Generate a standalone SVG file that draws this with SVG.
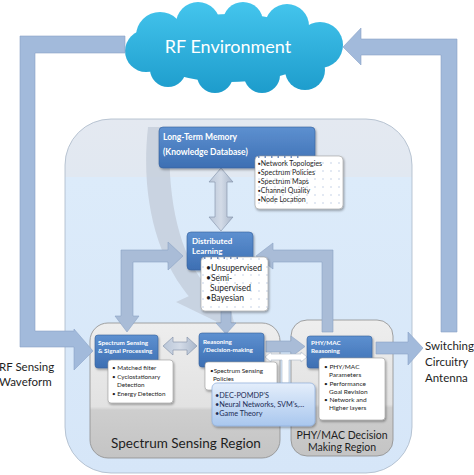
<svg xmlns="http://www.w3.org/2000/svg" width="474" height="475" viewBox="0 0 474 475">
<defs>
<linearGradient id="cloudG" gradientUnits="userSpaceOnUse" x1="0" y1="0" x2="0" y2="95"><stop offset="0" stop-color="#45c6ee"/><stop offset="1" stop-color="#1c9bcb"/></linearGradient>
<linearGradient id="contG" x1="0" y1="0" x2="0" y2="1"><stop offset="0" stop-color="#e4e9f1"/><stop offset="0.163" stop-color="#e1e8f1"/><stop offset="0.165" stop-color="#dcebfa"/><stop offset="1" stop-color="#d6e6f8"/></linearGradient>
<linearGradient id="regG" x1="0" y1="0" x2="0" y2="1"><stop offset="0" stop-color="#eeeeee"/><stop offset="0.62" stop-color="#e2e2e2"/><stop offset="0.645" stop-color="#cecece"/><stop offset="1" stop-color="#c4c4c4"/></linearGradient>
<linearGradient id="boxG" x1="0" y1="0" x2="0" y2="1"><stop offset="0" stop-color="#5d90d0"/><stop offset="1" stop-color="#3d6fb3"/></linearGradient>
<linearGradient id="decG" x1="0" y1="0" x2="0" y2="1"><stop offset="0" stop-color="#e4eefb"/><stop offset="1" stop-color="#a9c7ee"/></linearGradient>
<linearGradient id="arrG" x1="0" y1="0" x2="1" y2="0"><stop offset="0" stop-color="#b9c6d8"/><stop offset="0.5" stop-color="#d3dbe7"/><stop offset="1" stop-color="#a9b7cb"/></linearGradient>
<pattern id="dots" width="8" height="8" patternUnits="userSpaceOnUse"><rect width="8" height="8" fill="#ffffff"/><circle cx="3" cy="3" r="0.7" fill="#b3c3de"/></pattern>
<filter id="sh" x="-10%" y="-10%" width="130%" height="130%"><feDropShadow dx="1" dy="1.5" stdDeviation="1" flood-color="#000" flood-opacity="0.35"/></filter>
<style>
.bar{fill:#a2badb;stroke:#8aa3c8;stroke-width:0.6}
.arr{fill:#a9bcd7;stroke:#8ca2c4;stroke-width:0.6}
.box{fill:url(#boxG);stroke:#35619c;stroke-width:0.6;filter:url(#sh)}
.wbox{fill:#ffffff;stroke:#9a9a9a;stroke-width:0.6;filter:url(#sh)}
.dbox{fill:url(#dots);stroke:#9a9a9a;stroke-width:0.6;filter:url(#sh)}
.dtop{stroke:#4a70b0;stroke-width:1.3;stroke-dasharray:1.5 5;fill:none}
.region{fill:url(#regG);stroke:#8d8d8d;stroke-width:0.8}
.lbl{font-family:Lato,'Liberation Sans',sans-serif;fill:#ffffff;font-weight:bold}
.li{font-family:Lato,'Liberation Sans',sans-serif;fill:#1e1e1e}
.big{font-family:Lato,'Liberation Sans',sans-serif;fill:#1e1e1e}
</style>
</defs>

<!-- main container -->
<rect id="container" x="65" y="119" width="347" height="354" rx="46" fill="url(#contG)" stroke="#a9b8c8" stroke-width="0.8"/>

<!-- faded curved arrow -->
<g id="curved-arrow" fill="#c3ccd9" opacity="0.75">
<path d="M148,127 C140,200 158,262 192,300 L210,290 C180,258 166,200 170,127 Z"/>
<path d="M176,302 L236,331 L224,280 Z"/>
</g>

<!-- regions -->
<g id="spectrum-sensing-region">
<rect class="region" x="90" y="323" width="190" height="135" rx="18"/>
<text class="big" x="186" y="448" font-size="13.5" text-anchor="middle">Spectrum Sensing Region</text>
</g>
<g id="phymac-region">
<rect class="region" x="291" y="320" width="102" height="136" rx="16"/>
<text class="big" x="342" y="439" font-size="10.5" text-anchor="middle">PHY/MAC Decision</text>
<text class="big" x="342" y="451" font-size="10.5" text-anchor="middle">Making Region</text>
</g>

<!-- cloud -->
<g id="rf-environment" fill="url(#cloudG)">
<ellipse cx="230" cy="48" rx="88" ry="34"/>
<circle cx="160" cy="36" r="24"/>
<circle cx="198" cy="24" r="22"/>
<circle cx="243" cy="22" r="20"/>
<circle cx="287" cy="26" r="22"/>
<circle cx="320" cy="45" r="23"/>
<circle cx="305" cy="70" r="20"/>
<circle cx="262" cy="75" r="18"/>
<circle cx="215" cy="75" r="18"/>
<circle cx="168" cy="69" r="18"/>
<circle cx="146" cy="51" r="21"/>
<text x="228" y="53" font-family="Lato,'Liberation Sans',sans-serif" font-size="18" fill="#ffffff" text-anchor="middle">RF Environment</text>
</g>

<!-- external labels -->
<g id="rf-sensing-waveform" font-family="Lato,'Liberation Sans',sans-serif" font-size="11.5" fill="#1e1e1e">
<text x="-1" y="371">RF Sensing</text>
<text x="-1" y="386">Waveform</text>
</g>
<g id="switching-circuitry" font-family="Lato,'Liberation Sans',sans-serif" font-size="11.5" fill="#1e1e1e">
<text x="425" y="350">Switching</text>
<text x="425" y="366">Circuitry</text>
<text x="425" y="382">Antenna</text>
</g>

<!-- connectors -->
<g id="connectors">
<path class="bar" d="M125,36 H20 V347 H74 V370 L93,351 L74,329 V331 H35 V53 H125 Z"/>
<path class="bar" d="M343,47 L361,28 V39 H457 V332 H441 V55 H361 V65 Z"/>
<path class="bar" d="M376,342 H408 V332 L423,348 L408,365 V354 H376 Z"/>
<path class="arr" d="M121,250 H168 V242 L183,256 L168,270 V262 H133 V316 H139 L127,332 L115,316 H121 Z"/>
<path class="arr" d="M333,332 V250 H273 V243 L256,256 L273,269 V262 H322 V332 Z"/>
<path fill="url(#arrG)" stroke="#7f8ea6" stroke-width="0.6" d="M221,168 L233,182 H227 V217 H233 L221,231 L209,217 H215 V182 H209 Z"/>
<path class="arr" d="M221,311 H231 V323 H236 L226,334 L216,323 H221 Z"/>
<path fill="url(#arrG)" stroke="#7f8ea6" stroke-width="0.6" d="M163,346 L173,337 V342 H187 V337 L197,346 L187,355 V350 H173 V355 Z"/>
<path class="arr" d="M266,341 H291 V336 L305,346.5 L291,357 V352 H266 Z"/>
<path fill="#ffffff" stroke="#a9b5c6" stroke-width="0.6" d="M265,357 L271,352 V354 H301 V352 L307,357 L301,362 V360 H289 V383 H282 V360 H271 V362 Z"/>
</g>

<!-- nodes -->
<g id="long-term-memory">
<rect class="box" x="159" y="127" width="156" height="41" rx="4"/>
<text class="lbl" x="163" y="140" font-size="8.5">Long-Term Memory</text>
<text class="lbl" x="163" y="155" font-size="8.5">(Knowledge Database)</text>
</g>
<g id="ltm-list">
<rect class="dbox" x="255" y="156" width="88" height="53" rx="4"/>
<line class="dtop" x1="258" y1="157" x2="300" y2="157"/>
<g class="li" font-size="7">
<text x="258" y="166">▪Network Topologies</text>
<text x="258" y="175">▪Spectrum Policies</text>
<text x="258" y="184">▪Spectrum Maps</text>
<text x="258" y="193">▪Channel Quality</text>
<text x="258" y="202">▪Node Location</text>
</g>
</g>

<g id="distributed-learning">
<rect class="box" x="187" y="232" width="66" height="38" rx="4"/>
<text class="lbl" x="192" y="244" font-size="8">Distributed</text>
<text class="lbl" x="192" y="254" font-size="8">Learning</text>
</g>
<g id="dl-list">
<rect class="dbox" x="201" y="257" width="67" height="54" rx="4"/>
<line class="dtop" x1="204" y1="258" x2="240" y2="258"/>
<g class="li" font-size="8.5">
<text x="206" y="271">•Unsupervised</text>
<text x="206" y="281">•Semi-</text>
<text x="210" y="291">Supervised</text>
<text x="206" y="301">•Bayesian</text>
</g>
</g>

<g id="spectrum-sensing">
<rect class="box" x="95" y="335" width="63" height="33" rx="3"/>
<text class="lbl" x="98" y="345" font-size="6.3">Spectrum Sensing</text>
<text class="lbl" x="98" y="353" font-size="6.3">&amp; Signal Processing</text>
</g>
<g id="ss-list">
<rect class="wbox" x="108" y="360" width="65" height="43" rx="3"/>
<g class="li" font-size="6.3">
<text x="112" y="370">• Matched filter</text>
<text x="112" y="379">• Cyclostationary</text>
<text x="117" y="387">Detection</text>
<text x="112" y="396">• Energy Detection</text>
</g>
</g>

<g id="reasoning">
<rect class="box" x="199" y="333" width="65" height="34" rx="3"/>
<text class="lbl" x="203" y="344" font-size="6.3">Reasoning</text>
<text class="lbl" x="203" y="352" font-size="6.3">/Decision-making</text>
</g>
<g id="reasoning-list">
<rect class="wbox" x="205" y="362" width="72" height="28" rx="3"/>
<g class="li" font-size="6.3">
<text x="210" y="373">•Spectrum Sensing</text>
<text x="213" y="381">Policies</text>
</g>
</g>
<g id="methods">
<rect x="212" y="383" width="103" height="43" rx="5" fill="url(#decG)" stroke="#8eaedb" stroke-width="0.7" filter="url(#sh)"/>
<g font-family="Lato,'Liberation Sans',sans-serif" font-size="7.3" fill="#1c2c55" style="white-space:pre">
<text x="215" y="398">•DEC-POMDP’S</text>
<text x="215" y="407">•Neural  Networks, SVM’s,...</text>
<text x="215" y="416">•Game Theory</text>
</g>
</g>

<g id="phymac-reasoning">
<rect class="box" x="307" y="336" width="65" height="32" rx="3"/>
<text class="lbl" x="311" y="345" font-size="6.3">PHY/MAC</text>
<text class="lbl" x="311" y="353" font-size="6.3">Reasoning</text>
</g>
<g id="phymac-list">
<rect class="wbox" x="319" y="358" width="66" height="62" rx="3"/>
<g class="li" font-size="6.5">
<text x="324" y="369">• PHY/MAC</text>
<text x="329" y="377">Parameters</text>
<text x="324" y="386">• Performance</text>
<text x="329" y="394">Goal Revision</text>
<text x="324" y="402">• Network and</text>
<text x="329" y="410">Higher layers</text>
</g>
</g>
</svg>
